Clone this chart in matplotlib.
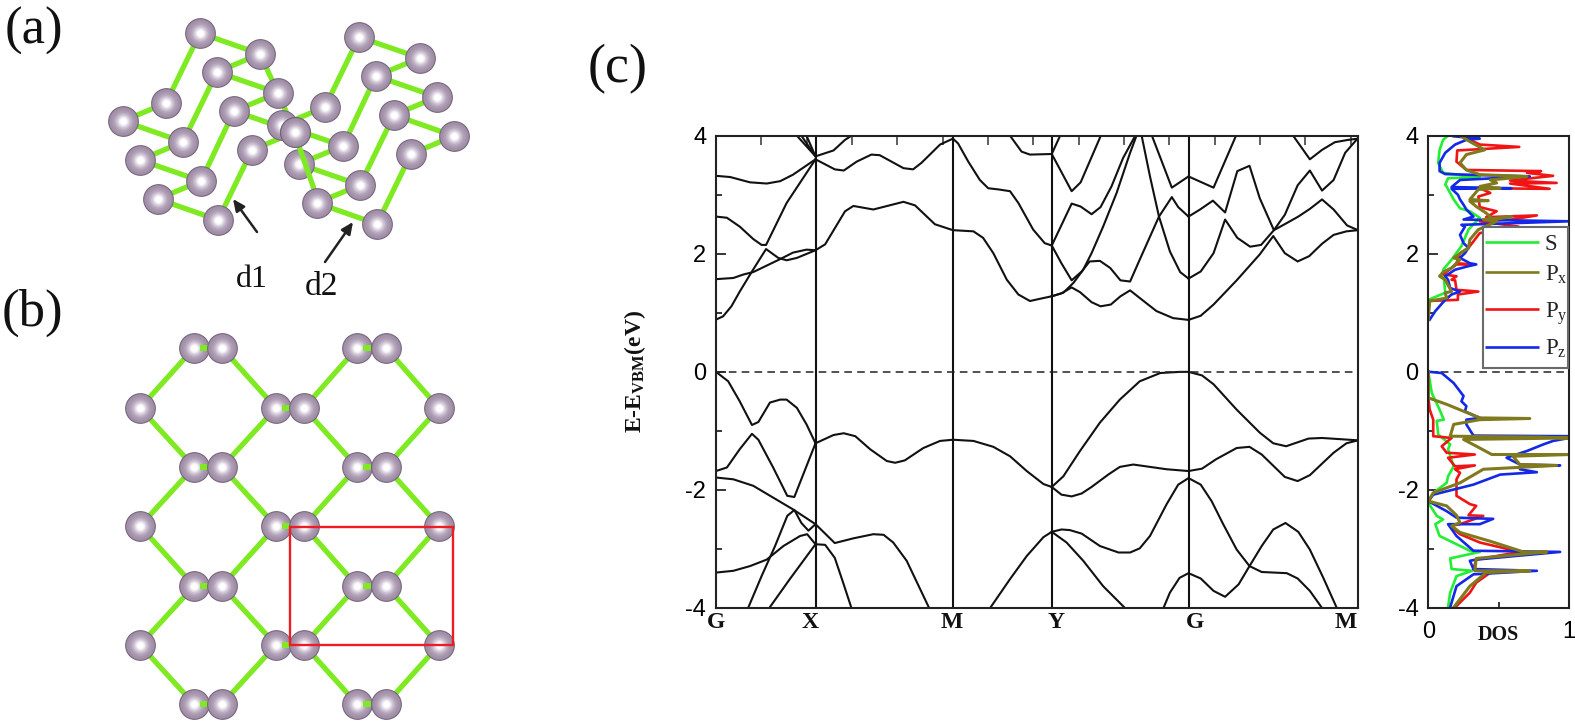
import matplotlib
matplotlib.use("Agg")
import matplotlib.pyplot as plt
from matplotlib.patches import Rectangle

plt.rcParams.update({
    "axes.unicode_minus": False,
    "mathtext.fontset": "custom",
    "mathtext.rm": "Liberation Serif",
    "mathtext.bf": "Liberation Serif:bold",
    "mathtext.it": "Liberation Serif:italic",
    "font.family": "Liberation Sans",
})

W, H = 1575, 725

# ---------- (c) band structure: k-path 0..100, energy in eV ----------
path_ticks = [0, 15.5, 36.9, 52.3, 73.6, 100]
path_labels = ["G", "X", "M", "Y", "G", "M"]
top_ticks = [7.06, 14.12, 21.18, 28.24, 35.3, 42.36, 49.42, 56.48, 63.54, 70.6, 77.66, 84.72, 91.78, 98.84]

conduction = [
    [(0,.885),(1.1,.94),(2.4,1.11),(3.7,1.36),(5.6,1.70),(7.8,2.08),(9.7,1.93),(11,1.89),(12.6,1.93),(15.5,2.06),
     (17,2.16),(20.1,2.72),(21.4,2.81),(24.5,2.75),(29.2,2.88),(31,2.82),(34.1,2.50),(36.9,2.40),(40.1,2.38),(41.6,2.27),
     (43.2,2.01),(45.3,1.56),(47.1,1.31),(48.9,1.20),(51,1.25),(52.3,1.28)],
    [(0,1.57),(2.7,1.59),(4.3,1.65),(5.8,1.69),(7.9,1.80),(10,1.91),(12,2.02),(14.1,2.07),(15.5,2.06)],
    [(0,2.63),(1.7,2.61),(3.7,2.46),(5.8,2.25),(7.1,2.15),(7.8,2.15),(11,2.86),(15.5,3.60)],
    [(0,3.32),(2.2,3.30),(5.3,3.21),(7.9,3.19),(10,3.23),(12,3.34),(15.5,3.60)],
    [(12.6,4.0),(15.5,3.65),(18.3,3.75),(20.1,3.93),(21.1,4.0)],
    [(13.3,4.0),(15.5,3.65)],
    [(14.1,4.0),(15.5,3.65)],
    [(15.5,3.60),(18.5,3.43),(19.9,3.41),(21.9,3.56),(24.2,3.68),(25.5,3.67),(29.2,3.45),(30.7,3.43),(32,3.54),(34.9,3.85),
     (36.9,3.95),(37.7,3.87),(39.3,3.56),(41.1,3.25),(42.4,3.11),(44,3.09),(45.8,3.06),(47.1,2.86),(49.4,2.41),(51.2,2.18),(52.3,2.14)],
    [(45.8,4.0),(47.6,3.73),(48.9,3.68),(52.3,3.69)],
    [(52.3,3.69),(55.4,3.06),(56.8,3.21),(59.9,3.99),(60,4.0)],
    [(52.3,3.69),(53.6,4.0)],
    [(52.3,2.14),(55.4,2.85),(56.8,2.80),(58.5,2.67),(59.9,2.79),(61.6,3.14),(63.4,3.62),(65.3,4.0)],
    [(52.3,2.14),(53.8,1.84),(55.4,1.55),(56.96,1.70),(58.2,1.87),(59.8,1.88),(61.4,1.76),(63,1.55),(64.5,1.53),(66,1.90),
     (69,2.63),(71,2.96),(72,2.79),(73.6,2.63)],
    [(52.3,1.28),(53.8,1.33),(55.4,1.43),(56.7,1.35),(58.5,1.18),(59.9,1.11),(61.5,1.14),(63,1.28),(64.5,1.38),(66.6,1.20),
     (68.6,1.03),(71.2,.91),(73.6,.88)],
    [(52.3,1.28),(54.1,1.34),(55.7,1.51),(57.2,1.73),(58.5,2.01),(60.3,2.46),(62.4,3.03),(64.5,3.71),(65.5,4.0)],
    [(66.3,4.0),(67.6,3.31),(69,2.63),(70.7,2.04),(72.3,1.69),(73.6,1.58)],
    [(67.9,4.0),(71,3.12),(73.6,3.31),(77.5,3.12),(81,4.0)],
    [(73.6,2.63),(75.4,2.75),(77.4,2.90),(79.3,2.70),(81.2,3.40),(83.1,3.49),(84.7,2.94),(86.9,2.40),(88.9,2.52),(90.7,2.63),
     (92.5,2.76),(94.4,2.92),(96.2,2.75),(98.3,2.48),(100,2.40)],
    [(73.6,1.58),(75.5,1.70),(77.5,2.01),(79.3,2.58),(81.2,2.27),(83.2,2.12),(84.9,2.15),(86.9,2.40),(88.6,2.66),(90.6,3.16),
     (92.5,3.41),(94.4,3.07),(96.2,3.25),(98,3.71),(100,3.96)],
    [(73.6,.88),(75.5,.95),(77.5,1.14),(81.1,1.55),(84.7,1.99),(86.8,2.30),(88.6,2.01),(90.6,1.87),(92.4,1.96),(94.4,2.17),
     (96.2,2.32),(98.2,2.38),(100,2.40)],
    [(89.9,4.0),(92.5,3.60),(94.4,3.76),(96.4,3.89),(98.5,3.93),(100,3.95)],
]

valence = [
    [(0,0),(1.9,-.16),(3.7,-.50),(5.6,-.90),(6.6,-.85),(8.4,-.52),(10,-.47),(11,-.47),(12.6,-.61),(14.1,-.89),(15.5,-1.21)],
    [(0,-1.68),(1.7,-1.62),(3.7,-1.31),(5.6,-1.05),(6.6,-1.15),(8.9,-1.62),(11.1,-2.10),(12.2,-2.12),(15.5,-1.21)],
    [(15.5,-1.21),(18.3,-1.07),(19.9,-1.04),(21.7,-1.09),(24,-1.31),(26.6,-1.51),(27.9,-1.54),(29.4,-1.50),(32.3,-1.29),
     (34.9,-1.17),(36.9,-1.15),(40.1,-1.17),(43.2,-1.27),(45.8,-1.43),(48.4,-1.68),(51,-1.90),(52.3,-1.95)],
    [(0,-1.79),(2.7,-1.82),(5.8,-1.93),(8.9,-2.13),(12,-2.33),(15.5,-2.58),(18.5,-2.90),(21.4,-2.82),(24.5,-2.75),(26.1,-2.76),
     (27.6,-2.89),(29.7,-3.20),(33.2,-4.0)],
    [(0,-3.40),(2.7,-3.37),(5.3,-3.29),(7.9,-3.18),(10.5,-2.95),(13.1,-2.78),(14.2,-2.75),(15.5,-2.92),(17,-2.93),(18.5,-3.15),
     (19.8,-3.57),(21.1,-4.0)],
    [(5,-4.0),(7.1,-3.46),(9.2,-2.95),(11.1,-2.44),(12.2,-2.34),(13.3,-2.56),(14.4,-2.69),(15.5,-2.58)],
    [(8.3,-4.0),(11.5,-3.51),(15.5,-2.92)],
    [(42.7,-4.0),(45.8,-3.51),(48.4,-3.12),(51,-2.80),(52.3,-2.71)],
    [(52.3,-1.95),(54.1,-1.77),(56.7,-1.34),(59.8,-.86),(62.9,-.47),(66,-.16),(69.2,-.02),(72.3,0),(73.6,0),(75.7,-.06),(77.5,-.21),
     (81.1,-.64),(84.7,-1.03),(86.8,-1.21),(88.8,-1.26),(92.3,-1.13),(94.4,-1.12),(100,-1.16)],
    [(52.3,-1.95),(53.8,-2.08),(55.4,-2.11),(56.96,-2.06),(58.5,-1.95),(61.1,-1.74),(62.9,-1.61),(65,-1.57),(67.6,-1.61),(70.2,-1.65),
     (73.6,-1.68),(75.7,-1.64),(77.9,-1.48),(81.1,-1.29),(83.1,-1.27),(85,-1.40),(88.6,-1.78),(90.6,-1.85),(92.5,-1.75),(96.2,-1.37),
     (98.2,-1.21),(100,-1.16)],
    [(52.3,-2.71),(53.8,-2.67),(55.1,-2.68),(56.96,-2.74),(59.8,-2.95),(62.7,-3.06),(64.5,-3.06),(66,-2.99),(67.6,-2.78),(70.2,-2.24),
     (72,-1.91),(73.6,-1.80),(75.5,-1.91),(77.2,-2.19),(79,-2.58),(81.1,-3.01),(83.1,-3.29),(85,-3.39),(88.9,-3.41),(90.6,-3.50),
     (92.5,-3.71),(94.4,-4.0)],
    [(52.3,-2.71),(54.6,-2.89),(57.2,-3.20),(60.3,-3.63),(63.7,-4.0)],
    [(69.7,-4.0),(70.7,-3.74),(72.2,-3.49),(73.6,-3.41),(75.5,-3.50),(77.5,-3.71),(79.3,-3.81),(81.4,-3.60),(83.1,-3.29),(85,-2.95),
     (86.8,-2.67),(88.7,-2.56),(90.7,-2.71),(92.5,-3.01),(94.6,-3.49),(96.7,-4.0)],
]

# ---------- DOS: (DOS, energy) ----------
dos_s = [
    (0,0),(.025,-.36),(.08,-.64),(.11,-.81),(.06,-.83),(.07,-1.06),(.155,-1.23),(.14,-1.31),(.18,-1.60),(.14,-1.77),(.13,-1.88),
    (.035,-2.05),(0,-2.22),(.06,-2.44),(.105,-2.50),(.05,-2.58),(.08,-2.78),(.295,-3.03),(.365,-3.05),(.155,-3.16),(.165,-3.34),
    (.31,-3.37),(.2,-3.46),(.155,-3.74),(.14,-3.99)]
dos_s_up = [
    (0,1.22),(.12,1.34),(.105,1.73),(.165,1.90),(.235,2.13),(.285,2.41),(.365,2.61),(.295,2.72),(.225,2.77),(.18,2.92),(.13,3.14),
    (.12,3.17),(.14,3.28),(.365,3.30),(.105,3.37),(.07,3.54),(.08,3.76),(.105,3.93),(.14,4.0)]
dos_py = [
    (.19,-3.99),(.295,-3.74),(.34,-3.57),(.44,-3.40),(.32,-3.34),(.34,-3.18),(.65,-3.05),(.365,-2.89),(.225,-2.75),(.155,-2.61),
    (.225,-2.58),(.39,-2.44),(.285,-2.43),(.34,-2.27),(.295,-2.24),(.20,-2.10),(.20,-1.82),(.225,-1.71),(.19,-1.65),(.33,-1.585),
    (.19,-1.60),(.14,-1.455),(.33,-1.40),(.13,-1.37),(.095,-1.26),(.165,-1.12),(.035,-1.09),(.035,-.81),(.01,-.64),(0,-.44),(0,0)]
dos_py_up = [
    (0,1.20),(.21,1.22),(.21,1.31),(.355,1.36),(.2,1.39),(.19,1.55),(.165,1.56),(.2,1.62),(.105,1.65),(.2,1.82),(.31,1.82),(.2,1.84),
    (.225,2.01),(.285,2.10),(.365,2.35),(.64,2.46),(.365,2.55),(.59,2.58),(.77,2.65),(.41,2.62),(.485,2.72),(.365,2.79),(.355,2.97),
    (.44,3.03),(.365,3.11),(.86,3.10),(.58,3.19),(.91,3.20),(.58,3.24),(.885,3.32),(.70,3.37),(.80,3.40),(.27,3.42),(.2,3.56),
    (.205,3.75),(.645,3.81),(.365,3.85),(.235,4.0)]
dos_pz = [
    (.155,-3.99),(.20,-3.63),(.32,-3.43),(.77,-3.37),(.32,-3.34),(.295,-3.20),(.34,-3.18),(.935,-3.05),(.32,-3.03),(.20,-2.78),
    (.14,-2.58),(.365,-2.58),(.46,-2.49),(.20,-2.47),(.13,-2.36),(0,-2.19),(.035,-2.08),(.32,-1.91),(.51,-1.74),(.77,-1.70),
    (.65,-1.65),(.675,-1.60),(.935,-1.585),(.65,-1.57),(.555,-1.455),(.70,-1.34),(.815,-1.23),(.885,-1.17),(1.0,-1.12),(1.0,-1.09),
    (.32,-1.08),(.27,-.89),(.27,-.81),(.365,-.78),(.26,-.67),(.27,-.58),(.235,-.50),(.25,-.41),(.18,-.19),(.095,-.02),(.01,0)]
dos_pz_up = [
    (.01,.885),(.05,1.03),(.12,1.22),(.165,1.31),(.225,1.36),(.155,1.42),(.14,1.56),(.12,1.62),(.19,1.73),(.285,1.79),(.34,1.82),
    (.295,1.84),(.225,1.93),(.26,2.01),(.285,2.10),(.25,2.18),(.225,2.32),(.26,2.46),(.235,2.49),(1.0,2.55),(.25,2.58),(.32,2.63),
    (.27,2.75),(.25,2.83),(.225,2.92),(.21,3.00),(.165,3.10),(.59,3.11),(.165,3.13),(.225,3.25),(.72,3.31),(.12,3.35),(.08,3.40),
    (.08,3.54),(.12,3.71),(.19,3.85),(.27,3.93),(.365,3.95),(.18,3.99)]
dos_px = [
    (.18,-3.99),(.295,-3.63),(.41,-3.40),(.72,-3.37),(.33,-3.37),(.34,-3.16),(.84,-3.05),(.675,-3.05),(.44,-2.87),(.225,-2.72),
    (.165,-2.61),(.225,-2.555),(.2,-2.43),(.13,-2.27),(0,-2.19),(.035,-2.05),(.225,-1.88),(.39,-1.65),(.91,-1.585),(.65,-1.57),
    (.60,-1.43),(1.0,-1.40),(.45,-1.40),(.365,-1.29),(.25,-1.145),(1.0,-1.12),(.79,-1.105),(.155,-1.09),(.18,-.89),(.365,-.81),
    (.72,-.79),(.365,-.78),(.13,-.55),(0,-.44),(0,0)]
dos_px_up = [
    (0,.885),(.01,1.20),(.13,1.25),(.12,1.34),(.165,1.36),(.12,1.56),(.08,1.62),(.105,1.69),(.165,1.76),(.225,1.90),(.18,1.93),
    (.285,2.10),(.295,2.24),(.355,2.41),(.485,2.55),(.39,2.58),(.59,2.63),(.46,2.58),(.41,2.69),(.34,2.80),(.295,2.89),(.425,2.90),
    (.295,2.92),(.355,3.09),(.51,3.11),(.365,3.14),(.485,3.20),(.44,3.25),(.70,3.31),(.365,3.34),(.27,3.42),(.225,3.54),(.27,3.68),
    (.40,3.76),(.295,3.90),(.225,4.0)]
dos_series = ["S", "P$_{\\mathrm{x}}$", "P$_{\\mathrm{y}}$", "P$_{\\mathrm{z}}$"]
dos_colors = ["#22ee33", "#807a1e", "#f01414", "#1428e8"]

# ---------- (a), (b) structure sketches: atom centres in picture pixels ----------
atoms_a = [(282,125),(299,164),(200,33),(260,54),(217,72),(166,103),(123,121),(183,142),(140,160),(201,181),(158,199),(218,220),
           (278,93),(234,111),(252,150),(359,37),(420,58),(376,76),(437,97),(325,107),(394,115),(343,146),(454,136),(411,154),
           (360,185),(317,203),(377,224),(295,132)]
bonds_a = [((200,33),(260,54)),((260,54),(217,72)),((217,72),(278,93)),((260,54),(278,93)),((200,33),(166,103)),((166,103),(123,121)),
           ((123,121),(183,142)),((183,142),(217,72)),((183,142),(140,160)),((140,160),(201,181)),((201,181),(234,111)),((234,111),(278,93)),
           ((234,111),(295,132)),((201,181),(158,199)),((158,199),(218,220)),((218,220),(252,150)),((252,150),(295,132)),((278,93),(295,132)),
           ((282,125),(325,107)),((282,125),(343,146)),((299,164),(343,146)),((299,164),(360,185)),((360,185),(317,203)),((317,203),(377,224)),
           ((377,224),(411,154)),((411,154),(454,136)),((454,136),(394,115)),((394,115),(437,97)),((437,97),(376,76)),((376,76),(420,58)),
           ((420,58),(359,37)),((359,37),(325,107)),((376,76),(343,146)),((394,115),(360,185))]
bonds_a_front = [((295,132),(317,203))]
rows_b = [348, 408, 467, 526, 586, 645, 704]
pair_cols_b = [(194,222),(357,386)]
mid_cols_b = [(140,None),(276,304),(439,None)]
diag_links_b = [(194,140),(222,276),(357,304),(386,439)]

fig = plt.figure(figsize=(W/100, H/100), dpi=100, facecolor="white")
bg = fig.add_axes([0, 0, 1, 1], zorder=0)
bg.set_xlim(0, W); bg.set_ylim(H, 0); bg.axis("off")
fg = fig.add_axes([0, 0, 1, 1], zorder=5)
fg.set_xlim(0, W); fg.set_ylim(H, 0); fg.axis("off")

GREEN = "#7fea22"
ATOM_LAYERS = [(490,"#6f6076"),(445,"#8f7e96"),(400,"#a28fa8"),(300,"#a896ae"),(225,"#b0a0b6"),(160,"#bdafc3"),
               (110,"#cdc2d2"),(70,"#e0d9e4"),(42,"#f2eef4"),(22,"#ffffff")]
order = [0]
def atom(x, y):
    order[0] += 1
    z = 5 + order[0] * .01
    for s, c in ATOM_LAYERS:
        bg.scatter([x], [y], s=s, color=c, linewidths=0, zorder=z)
def bond(p, q, z=2, lw=3.8):
    bg.plot([p[0],q[0]], [p[1],q[1]], color=GREEN, lw=lw, solid_capstyle="butt", zorder=z)

for p, q in bonds_a:
    bond(p, q)
for a_ in atoms_a:
    atom(*a_)
for p, q in bonds_a_front:
    bond((p[0]+4, p[1]+14), (q[0]-3, q[1]-14), z=5.05)
atom(*atoms_a[-1])

for i in range(len(rows_b)-1):
    for ca, cb in diag_links_b:
        if i % 2 == 0:
            bond((ca, rows_b[i]), (cb, rows_b[i+1]))
        else:
            bond((cb, rows_b[i]), (ca, rows_b[i+1]))
for i, r in enumerate(rows_b):
    cols = pair_cols_b if i % 2 == 0 else mid_cols_b
    for a_, b_ in cols:
        atom(a_, r)
        if b_ is not None:
            order[0] += 1
            bond((a_+6, r), (a_+14, r), z=5+order[0]*.01, lw=4.2)
            atom(b_, r)
bg.add_patch(Rectangle((290,527), 163, 118, fill=False, ec="#ee1c25", lw=1.7, zorder=9))

serif = "Liberation Serif"
for s, x, y, size in [("(a)", 5, 31, 38), ("(b)", 2, 313, 38), ("(c)", 588, 69, 39)]:
    bg.text(x, y, s, family=serif, fontsize=size, va="center", ha="left", color="#111111", zorder=10)
bg.text(252, 279, "d1", family=serif, fontsize=23, ha="center", va="center", color="#111111")
bg.text(321, 287, "d2", family=serif, fontsize=24, ha="center", va="center", color="#111111")
arrow = dict(arrowstyle="-|>,head_length=0.7,head_width=0.32", color="#222222", lw=1.8, shrinkA=0, shrinkB=0)
bg.annotate("", xy=(233,199), xytext=(257,232), arrowprops=arrow, zorder=10)
bg.annotate("", xy=(353,222), xytext=(325,262), arrowprops=arrow, zorder=10)

def px_rect(l, r, t, b):
    return [l/W, (H-b)/H, (r-l)/W, (b-t)/H]

ax = fig.add_axes(px_rect(716, 1358, 135.7, 608), zorder=2)
ax.patch.set_alpha(0)
for band in conduction + valence:
    ax.plot([p[0] for p in band], [p[1] for p in band], color="#111111", lw=1.5, solid_joinstyle="round")
for k in path_ticks[1:-1]:
    ax.axvline(k, color="#111111", lw=1.5)
ax.axhline(0, color="#222222", lw=1.1, dashes=(5, 3.4))
ax.set_xlim(0, 100); ax.set_ylim(-4, 4)
ax.set_yticks([-4, -2, 0, 2, 4]); ax.set_yticks([-3, -1, 1, 3], minor=True)
ax.set_xticks(top_ticks); ax.set_xticklabels([])
ax.tick_params(axis="x", which="major", direction="in", top=True, bottom=False, labeltop=False, labelbottom=False, length=6.5, width=1.1, color="#333333")
ax.tick_params(axis="y", which="major", direction="in", length=7.2, width=1.1, labelsize=17, pad=7)
ax.tick_params(axis="y", which="minor", direction="in", length=4, width=1.1)
for sp in ax.spines.values():
    sp.set_linewidth(1.5); sp.set_color("#222222")

label_px = [716, 810, 952, 1056, 1195, 1346]
for s, x in zip(path_labels, label_px):
    bg.text(x, 623, s, family=serif, fontweight="bold", fontsize=17, ha="center", va="center", color="#111111")
bg.text(635, 372, "E-E$_{\\mathbf{VBM}}$(eV)", family=serif, fontweight="bold", fontsize=17, rotation=90,
        ha="center", va="center", color="#111111")

ax2 = fig.add_axes(px_rect(1428.3, 1569.3, 135.7, 608), zorder=2)
ax2.patch.set_alpha(0)
LW = 1.9
def xy(v): return [p[0] for p in v], [p[1] for p in v]
ax2.plot(*xy(dos_s_up), color=dos_colors[0], lw=LW)
ax2.plot(*xy(dos_s), color=dos_colors[0], lw=LW)
ax2.plot(*xy(dos_py_up), color=dos_colors[2], lw=LW)
ax2.plot(*xy(dos_py), color=dos_colors[2], lw=LW)
ax2.plot(*xy(dos_pz_up), color=dos_colors[3], lw=LW)
ax2.plot(*xy(dos_pz), color=dos_colors[3], lw=LW)
ax2.plot(*xy(dos_px_up), color=dos_colors[1], lw=LW+.3)
ax2.plot(*xy(dos_px), color=dos_colors[1], lw=LW+.3)
ax2.axhline(0, color="#222222", lw=1.1, dashes=(5, 3.4), zorder=1)
ax2.set_xlim(0, 1); ax2.set_ylim(-4, 4)
ax2.set_xticks([0, 1]); ax2.set_xticks([.5], minor=True)
ax2.set_yticks([-4, -2, 0, 2, 4]); ax2.set_yticks([-3, -1, 1, 3], minor=True)
ax2.tick_params(axis="y", which="major", direction="in", length=7.2, width=1.1, labelsize=17, pad=7)
ax2.tick_params(axis="y", which="minor", direction="in", length=4, width=1.1)
ax2.tick_params(axis="x", which="major", direction="in", length=5, width=1.1, labelsize=17, pad=9)
ax2.tick_params(axis="x", which="minor", direction="in", length=4, width=1.1)
for sp in ax2.spines.values():
    sp.set_linewidth(1.5); sp.set_color("#222222")
bg.text(1498, 635, "DOS", family=serif, fontweight="bold", fontsize=14.5, ha="center", va="center", color="#111111")

# legend box placed by hand, as in the reference
fg.add_patch(Rectangle((1483,227), 85, 141, fc="white", ec="#6a6a6a", lw=1.5, zorder=1))
for name, col, ly, by in zip(dos_series, dos_colors, [242, 272, 309, 347], [250, 281, 318, 355]):
    fg.plot([1485, 1539], [ly, ly], color=col, lw=1.9, zorder=2, solid_capstyle="butt")
    fg.text(1545, by, name, family=serif, fontsize=16.5, va="baseline", ha="left", color="#222222", zorder=3)

fig.savefig("out.png", dpi=100, facecolor="white")
